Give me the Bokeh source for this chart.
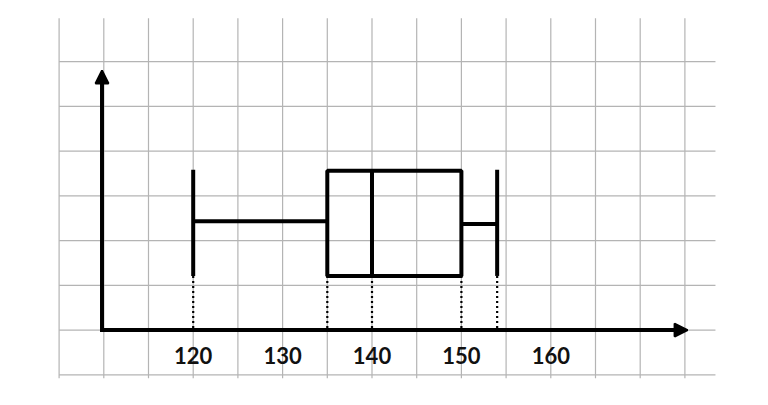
from bokeh.plotting import figure
from bokeh.models import Range1d, Arrow, NormalHead, ColumnDataSource
from bokeh.core.properties import value
from bokeh.embed import file_html
from bokeh.resources import INLINE

# ---- data ----
box_min = 120
box_q1 = 135
box_median = 140
box_q3 = 150
box_max = 154
tick_values = [120, 130, 140, 150, 160]
tick_labels = ["120", "130", "140", "150", "160"]

# ---- layout constants ----
BOX_BOTTOM, BOX_TOP = 1.21, 3.56
CAP_BOTTOM, CAP_TOP = 1.21, 3.58
LEFT_WHISKER_Y, RIGHT_WHISKER_Y = 2.43, 2.37
GRID_X = [105 + 5 * i for i in range(15)]
GRID_Y = [-1 + i for i in range(8)]

p = figure(width=740, height=395, output_backend="svg", toolbar_location=None,
           x_range=Range1d(98.445, 181.22), y_range=Range1d(-1.461, 7.364),
           x_axis_type=None, y_axis_type=None, min_border=0)
p.outline_line_color = None
p.grid.visible = False
p.background_fill_color = "white"

grid_col = "#b4b4b4"
# grid
p.segment(x0=GRID_X, y0=[-1.075] * len(GRID_X), x1=GRID_X, y1=[6.97] * len(GRID_X),
          line_color=grid_col, line_width=1.2)
p.segment(x0=[105] * len(GRID_Y), y0=GRID_Y, x1=[178.42] * len(GRID_Y), y1=GRID_Y,
          line_color=grid_col, line_width=1.2)

# dotted guide lines
guides = [box_min, box_q1, box_median, box_q3, box_max]
p.segment(x0=guides, y0=[CAP_BOTTOM] * 5, x1=guides, y1=[0] * 5,
          line_color="black", line_width=2.2, line_dash="2 3")

# axes with arrows
p.add_layout(Arrow(end=NormalHead(size=13, fill_color="black", line_color="black", line_width=2),
                   x_start=109.8, y_start=0, x_end=175.3, y_end=0,
                   line_width=4, line_color="black"))
p.add_layout(Arrow(end=NormalHead(size=13, fill_color="black", line_color="black", line_width=2),
                   x_start=109.8, y_start=-0.04, x_end=109.8, y_end=5.8,
                   line_width=4, line_color="black"))

# box
p.quad(left=[box_q1], right=[box_q3], bottom=[BOX_BOTTOM], top=[BOX_TOP],
       fill_color=None, line_color="black", line_width=4)
p.segment(x0=[box_median], y0=[BOX_BOTTOM], x1=[box_median], y1=[BOX_TOP],
          line_color="black", line_width=4)
# whiskers
p.segment(x0=[box_min, box_q3], y0=[LEFT_WHISKER_Y, RIGHT_WHISKER_Y],
          x1=[box_q1, box_max], y1=[LEFT_WHISKER_Y, RIGHT_WHISKER_Y],
          line_color="black", line_width=4)
p.segment(x0=[box_min, box_max], y0=[CAP_BOTTOM] * 2, x1=[box_min, box_max], y1=[CAP_TOP] * 2,
          line_color="black", line_width=4)

# tick labels
src = ColumnDataSource(dict(x=tick_values, y=[-0.56] * len(tick_values), t=tick_labels))
p.text(x="x", y="y", text="t", source=src, text_align="center", text_baseline="middle",
       text_font=value("Lato"), text_font_size="22px", text_font_style="bold",
       text_color="#111111")

open("out.html", "w").write(file_html(p, INLINE))
